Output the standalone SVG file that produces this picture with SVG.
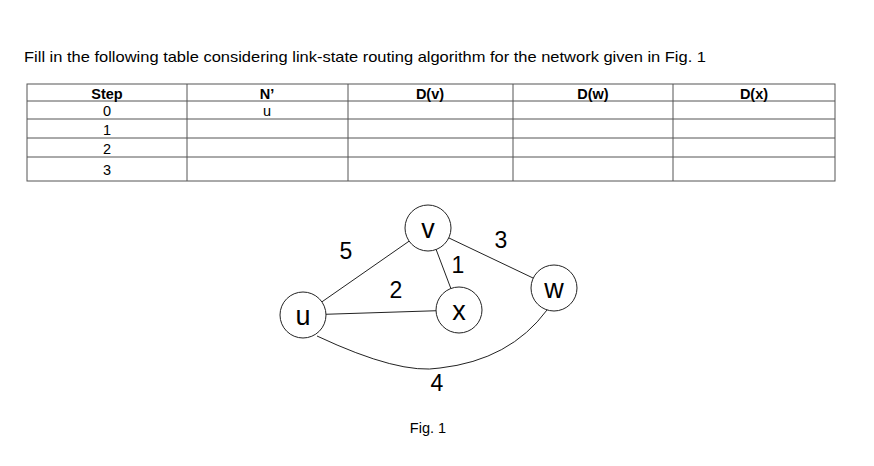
<svg xmlns="http://www.w3.org/2000/svg" width="874" height="466" viewBox="0 0 874 466">
<style>
text{font-family:"Liberation Sans",Arial,sans-serif;fill:#000}
.t{font-size:14.5px;text-anchor:middle}
.h{font-weight:bold}
.g line,.g path{stroke:#222;stroke-width:1;fill:none}
.tb line{stroke:#555;stroke-width:1}
circle{fill:#fff;stroke:#222;stroke-width:1}
.n{font-size:27px;text-anchor:middle}
.l{font-size:23px;text-anchor:middle}
</style>
<rect width="874" height="466" fill="#fff"/>
<text x="24" y="62" font-size="15" textLength="682" lengthAdjust="spacingAndGlyphs">Fill in the following table considering link-state routing algorithm for the network given in Fig. 1</text>
<g class="tb">
<rect x="27" y="84" width="808" height="97" fill="none" stroke="#555"/>
<line x1="27" y1="101" x2="835" y2="101"/>
<line x1="27" y1="119" x2="835" y2="119"/>
<line x1="27" y1="138" x2="835" y2="138"/>
<line x1="27" y1="157" x2="835" y2="157"/>
<line x1="187" y1="84" x2="187" y2="181"/>
<line x1="348" y1="84" x2="348" y2="181"/>
<line x1="513" y1="84" x2="513" y2="181"/>
<line x1="673" y1="84" x2="673" y2="181"/>
</g>
<g>
<text class="t h" x="107" y="99">Step</text>
<text class="t h" x="267" y="99">N’</text>
<text class="t h" x="430" y="99">D(v)</text>
<text class="t h" x="593" y="99">D(w)</text>
<text class="t h" x="754" y="99">D(x)</text>
<text class="t" x="107" y="116">0</text>
<text class="t" x="267" y="116">u</text>
<text class="t" x="107" y="135">1</text>
<text class="t" x="107" y="154">2</text>
<text class="t" x="107" y="175">3</text>
</g>
<g id="edges" class="g">
<line x1="303" y1="315" x2="428" y2="228"/>
<line x1="303" y1="315" x2="459" y2="310"/>
<line x1="428" y1="228" x2="459" y2="310"/>
<line x1="428" y1="228" x2="554" y2="288"/>
<path d="M317 336 Q400 375 440 368 Q510 360 547 310"/>
</g>
<g id="labels">
<text class="l" x="346" y="259">5</text>
<text class="l" x="396" y="298">2</text>
<text class="l" x="458" y="273">1</text>
<text class="l" x="501" y="248">3</text>
<text class="l" x="437" y="391">4</text>
</g>
<g id="node-u"><circle cx="303" cy="315" r="23"/><text class="n" x="303" y="325">u</text></g>
<g id="node-v"><circle cx="428" cy="228" r="23"/><text class="n" x="428" y="238">v</text></g>
<g id="node-x"><circle cx="459" cy="310" r="23"/><text class="n" x="459" y="320">x</text></g>
<g id="node-w"><circle cx="554" cy="288" r="23"/><text class="n" x="554" y="298">w</text></g>
<text x="428" y="433" font-size="14.5" text-anchor="middle">Fig. 1</text>
</svg>
